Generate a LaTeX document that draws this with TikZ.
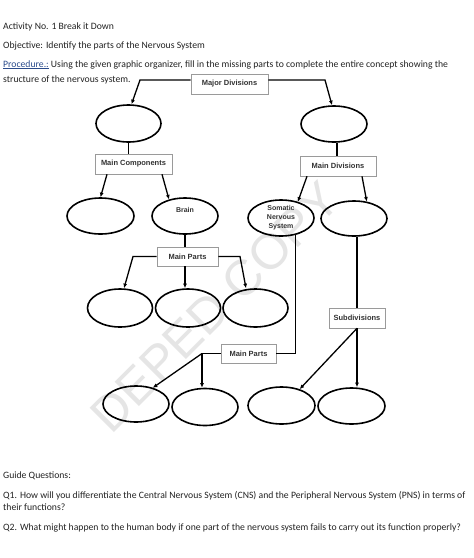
\documentclass[tikz,border=0pt]{standalone}
\usepackage{fontspec}
\setmainfont{Carlito}
\newfontfamily\arialfont{Liberation Sans}
\usetikzlibrary{shapes.geometric,arrows.meta,calc}
\definecolor{txt}{HTML}{222222}
\definecolor{procblue}{HTML}{2B4C8C}
\definecolor{boxline}{HTML}{9A9A9A}
\begin{document}
\begin{tikzpicture}[x=1pt,y=-1pt,
  ell/.style={ellipse, draw, line width=1.6pt, inner sep=0pt, align=center,
    font=\arialfont\bfseries\fontsize{7}{9}\selectfont, text=black!80},
  lbl/.style={draw=boxline, line width=0.6pt, fill=white, inner sep=0pt,
    font=\arialfont\bfseries\fontsize{7.5}{9}\selectfont, text=black!80},
  conn/.style={line width=1.3pt, -{Latex[length=4.5pt,width=4pt]}},
  plain/.style={line width=1.3pt},
  body/.style={anchor=base west, inner sep=0pt, text=txt,
    font=\fontsize{9.7}{11}\selectfont},
  wmark/.style={inner sep=0pt, text=gray!20,
    font=\arialfont\fontsize{50}{50}\selectfont}
]
\useasboundingbox (0,0) rectangle (474,558);
\fill[white] (0,0) rectangle (474,558);

% watermark
\node[wmark, rotate=45] (wm) at (215,307) {DEPED COPY};

% text
\node[body] (t1) at (3,29) {Activity No. 1 Break it Down};
\node[body] (t2) at (3,48) {Objective: Identify the parts of the Nervous System};
\node[body] (t3) at (3,67) {{\color{procblue}\underline{Procedure.:}} Using the given graphic organizer, fill in the missing parts to complete the entire concept showing the};
\node[body] (t4) at (3,82) {structure of the nervous system.};
\node[body] (g0) at (3,478) {Guide Questions:};
\node[body] (g1) at (3,498) {Q1. How will you differentiate the Central Nervous System (CNS) and the Peripheral Nervous System (PNS) in terms of};
\node[body] (g2) at (3,510) {their functions?};
\node[body] (g3) at (3,530) {Q2. What might happen to the human body if one part of the nervous system fails to carry out its function properly?};

% ellipses
\node[ell, minimum width=65pt, minimum height=37pt] (e1) at (128.5,123.5) {};
\node[ell, minimum width=66pt, minimum height=36pt] (e2) at (334,124) {};
\node[ell, minimum width=67pt, minimum height=36pt] (e3) at (100.5,216) {};
\node[ell, minimum width=66pt, minimum height=36pt] (brain) at (185,216) {Brain\\[4pt]};
\node[ell, minimum width=66pt, minimum height=36pt] (som) at (281,218) {Somatic\\Nervous\\System};
\node[ell, minimum width=66pt, minimum height=35pt] (e6) at (354,218.5) {};
\node[ell, minimum width=65pt, minimum height=38pt] (r1) at (120,308) {};
\node[ell, minimum width=65pt, minimum height=38pt] (r2) at (188,308) {};
\node[ell, minimum width=65pt, minimum height=38pt] (r3) at (255.5,308) {};
\node[ell, minimum width=66pt, minimum height=36pt] (b1) at (136,404) {};
\node[ell, minimum width=66pt, minimum height=37pt] (b2) at (205,407) {};
\node[ell, minimum width=67pt, minimum height=37pt] (b3) at (281.5,405.5) {};
\node[ell, minimum width=67pt, minimum height=36pt] (b4) at (351.5,406) {};

% label boxes
\node[lbl, minimum width=77pt, minimum height=20pt] (major) at (229.5,84) {Major Divisions};
\node[lbl, minimum width=77pt, minimum height=20pt] (mc) at (133.5,164) {Main Components};
\node[lbl, minimum width=76pt, minimum height=20pt] (md) at (338,166) {Main Divisions};
\node[lbl, minimum width=61pt, minimum height=19pt] (mp1) at (187.5,256.5) {Main Parts};
\node[lbl, minimum width=55pt, minimum height=19pt] (mp2) at (248.5,353.5) {Main Parts};
\node[lbl, minimum width=56pt, minimum height=20pt] (sub) at (357,318) {Subdivisions};

% connectors
\draw[conn] ([yshift=4pt]major.west) -- (140,80) -- ([xshift=3pt]e1.north);
\draw[conn] ([yshift=4pt]major.east) -- (325,80) -- ([xshift=-2pt]e2.north);
\draw[plain] (e1.south) -- (e1.south |- mc.north);
\draw[plain] ([xshift=3pt]e2.south) -- ([xshift=3pt]e2.south |- md.north);
\draw[conn] ([xshift=-26.5pt]mc.south) -- (e3.north);
\draw[conn] ([xshift=28.5pt]mc.south) -- (brain.134);
\draw[conn] ([xshift=-31pt]md.south) -- (som.44);
\draw[conn] ([xshift=24pt]md.south) -- (e6.53);
\draw[plain] (brain.south) -- (brain.south |- mp1.north);
\draw[conn] (mp1.west) -- (133,256.5) -- ([xshift=4pt]r1.north);
\draw[conn] ([xshift=-2.5pt]mp1.south) -- ([xshift=-2.5pt]mp1.south |- r2.north);
\draw[conn] (mp1.east) -- (240,256.5) -- ([xshift=-9.5pt]r3.north);
\draw[plain] (som.-49) -- (som.-49 |- mp2.east) -- (mp2.east);
\coordinate (mpj) at (202,353.5);
\draw[plain] (mp2.west) -- (mpj);
\draw[conn] (mpj) -- (mpj |- b2.north);
\draw[conn] (mpj) -- (b1.44);
\draw[plain] (sub.north |- e6.south) -- (sub.north);
\draw[conn] (sub.south) -- (sub.south |- b4.north);
\draw[conn] (sub.south) -- (b3.42);
\end{tikzpicture}
\end{document}
